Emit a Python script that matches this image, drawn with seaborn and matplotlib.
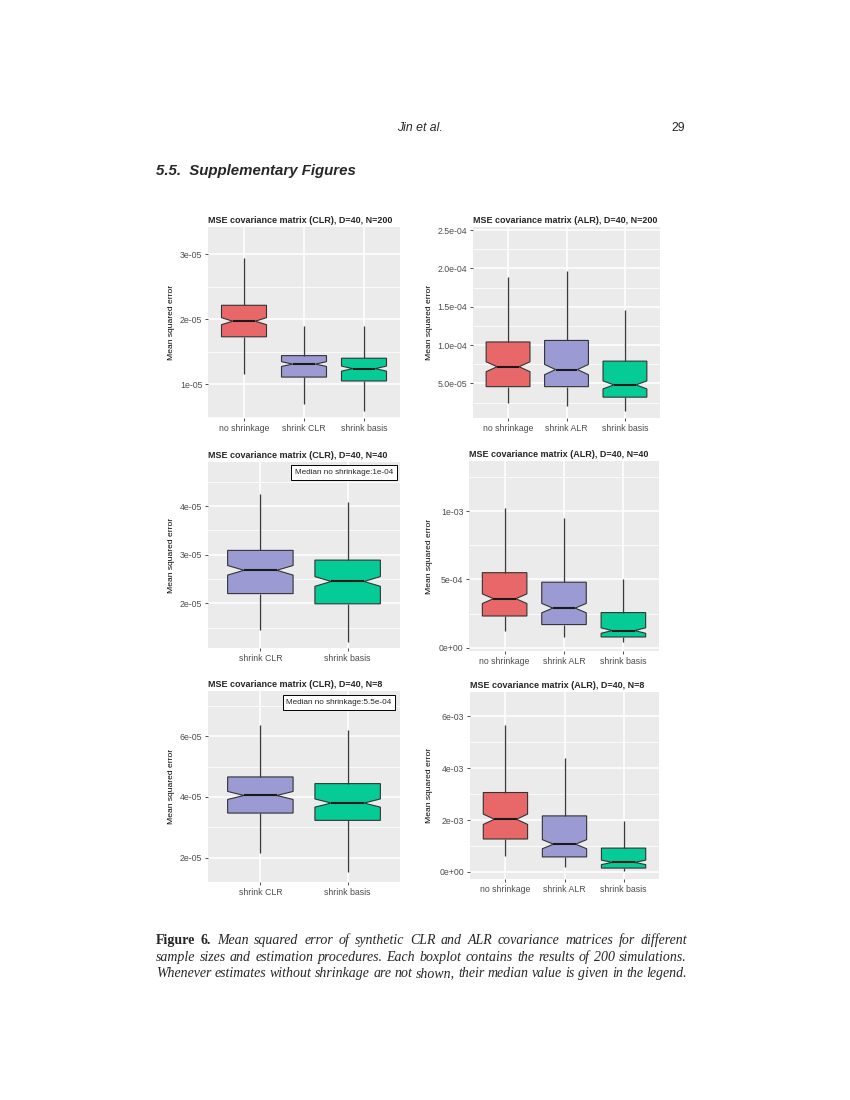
import numpy as np
import pandas as pd
import matplotlib
matplotlib.use("Agg")
import matplotlib.pyplot as plt
from matplotlib.ticker import AutoMinorLocator
import seaborn as sns

W, H = 850, 1100

# categorias de cada painel
cats_clr = ["no shrinkage", "shrink CLR", "shrink basis"]
cats_alr = ["no shrinkage", "shrink ALR", "shrink basis"]
cats_clr_only = ["shrink CLR", "shrink basis"]

# resumo de cada caixa: bigode inf, Q1, mediana, Q3, bigode sup
clr_n200 = {
    "no shrinkage": [1.16e-5, 1.73e-5, 1.97e-5, 2.215e-5, 2.94e-5],
    "shrink CLR": [0.69e-5, 1.11e-5, 1.31e-5, 1.44e-5, 1.90e-5],
    "shrink basis": [0.585e-5, 1.05e-5, 1.24e-5, 1.40e-5, 1.90e-5],
}
alr_n200 = {
    "no shrinkage": [0.24e-4, 0.457e-4, 0.717e-4, 1.04e-4, 1.89e-4],
    "shrink ALR": [0.21e-4, 0.457e-4, 0.68e-4, 1.06e-4, 1.96e-4],
    "shrink basis": [0.14e-4, 0.32e-4, 0.48e-4, 0.79e-4, 1.46e-4],
}
clr_n40 = {
    "shrink CLR": [1.45e-5, 2.20e-5, 2.68e-5, 3.09e-5, 4.26e-5],
    "shrink basis": [1.21e-5, 1.99e-5, 2.45e-5, 2.89e-5, 4.09e-5],
}
alr_n40 = {
    "no shrinkage": [1.2e-4, 2.32e-4, 3.59e-4, 5.5e-4, 1.027e-3],
    "shrink ALR": [0.78e-4, 1.69e-4, 2.9e-4, 4.8e-4, 9.5e-4],
    "shrink basis": [0.41e-4, 0.78e-4, 1.25e-4, 2.57e-4, 5.06e-4],
}
clr_n8 = {
    "shrink CLR": [2.15e-5, 3.47e-5, 4.05e-5, 4.66e-5, 6.36e-5],
    "shrink basis": [1.53e-5, 3.23e-5, 3.80e-5, 4.44e-5, 6.20e-5],
}
alr_n8 = {
    "no shrinkage": [0.63e-3, 1.27e-3, 2.03e-3, 3.06e-3, 5.65e-3],
    "shrink ALR": [0.18e-3, 0.58e-3, 1.07e-3, 2.16e-3, 4.38e-3],
    "shrink basis": [0.05e-3, 0.15e-3, 0.37e-3, 0.92e-3, 1.98e-3],
}

# medianas sem shrinkage (legenda)
note_n40 = "Median no shrinkage:1e-04"
note_n8 = "Median no shrinkage:5.5e-04"

# cores
palette = {
    "no shrinkage": "#E8686A",
    "shrink CLR": "#9B9AD2",
    "shrink ALR": "#9B9AD2",
    "shrink basis": "#05CC96",
}

N_SIM = 200  # 200 simulacoes por caixa


def box_frame(summary, cats):
    # cada valor do resumo representa 1/5 das simulacoes
    rows = []
    for c in cats:
        for v in summary[c]:
            rows += [(c, v)] * (N_SIM // 5)
    return pd.DataFrame(rows, columns=["method", "mse"])


sns.set_style("darkgrid", {"axes.facecolor": "#EBEBEB", "grid.color": "white"})
plt.rcParams["font.family"] = ["Liberation Sans", "DejaVu Sans"]

fig = plt.figure(figsize=(W / 100, H / 100), dpi=100)

# (left, top, right, bottom) em px, titulo, categorias, dados, ylim, ticks, labels, x do ylabel, nota
panels = [
    ((208, 227, 400, 418), "MSE covariance matrix (CLR), D=40, N=200", cats_clr, clr_n200,
     (0.48e-5, 3.42e-5), [1e-5, 2e-5, 3e-5], ["1e-05", "2e-05", "3e-05"], 175, None),
    ((473, 227, 660, 418), "MSE covariance matrix (ALR), D=40, N=200", cats_alr, alr_n200,
     (0.48e-5, 2.54e-4), [5e-5, 1e-4, 1.5e-4, 2e-4, 2.5e-4],
     ["5.0e-05", "1.0e-04", "1.5e-04", "2.0e-04", "2.5e-04"], 433, None),
    ((208, 462, 400, 648), "MSE covariance matrix (CLR), D=40, N=40", cats_clr_only, clr_n40,
     (1.08e-5, 4.91e-5), [2e-5, 3e-5, 4e-5], ["2e-05", "3e-05", "4e-05"], 175,
     (note_n40, 0.708, 0.944)),
    ((469, 461, 659, 651), "MSE covariance matrix (ALR), D=40, N=40", cats_alr, alr_n40,
     (-2.5e-5, 1.37e-3), [0, 5e-4, 1e-3], ["0e+00", "5e-04", "1e-03"], 433, None),
    ((208, 691, 400, 882), "MSE covariance matrix (CLR), D=40, N=8", cats_clr_only, clr_n8,
     (1.2e-5, 7.49e-5), [2e-5, 4e-5, 6e-5], ["2e-05", "4e-05", "6e-05"], 175,
     (note_n8, 0.682, 0.94)),
    ((470, 692, 659, 879), "MSE covariance matrix (ALR), D=40, N=8", cats_alr, alr_n8,
     (-2.7e-4, 6.93e-3), [0, 2e-3, 4e-3, 6e-3], ["0e+00", "2e-03", "4e-03", "6e-03"], 433, None),
]

for (l, t, r, b), title, cats, summary, ylim, yt, ytl, ylab_x, note in panels:
    ax = fig.add_axes([l / W, 1 - b / H, (r - l) / W, (b - t) / H])
    df = box_frame(summary, cats)
    sns.boxplot(data=df, x="method", y="mse", hue="method", order=cats, hue_order=cats,
                palette=palette, saturation=1, notch=True, whis=np.inf, width=0.75,
                linewidth=0.8, linecolor="#333333", showcaps=False, showfliers=False,
                medianprops={"linewidth": 1.5, "color": "#1A1A1A"},
                whiskerprops={"color": "#3A3A3A", "linewidth": 0.95},
                legend=False, ax=ax)
    ax.set_xlim(-0.6, len(cats) - 0.4)
    ax.set_ylim(*ylim)
    ax.set_yticks(yt, ytl)
    ax.yaxis.set_minor_locator(AutoMinorLocator(2))
    ax.grid(which="major", color="white", lw=1.1)
    ax.grid(which="minor", axis="y", color="white", lw=0.55)
    ax.xaxis.grid(True, color="white", lw=1.1)
    ax.set_axisbelow(True)
    for s in ax.spines.values():
        s.set_visible(False)
    ax.tick_params(axis="both", which="major", left=True, bottom=True, length=2.5, width=0.6,
                   color="#333333", labelsize=6.3, labelcolor="#4D4D4D", pad=1.5)
    ax.tick_params(axis="y", which="minor", length=0)
    ax.set_xlabel("")
    ax.set_ylabel("Mean squared error", fontsize=6.1, color="black")
    ax.yaxis.set_label_coords((ylab_x - l) / (r - l), 0.5)
    ax.set_title(title, loc="left", fontsize=6.5, fontweight="bold", pad=3)
    if note:
        ax.text(note[1], note[2], note[0], transform=ax.transAxes, ha="center", va="center",
                fontsize=5.9, bbox=dict(boxstyle="square,pad=0.45", fc="white", ec="black", lw=0.7))

# cabecalho da pagina
fig.text(420 / W, 1 - 128 / H, "Jin et al.", ha="center", va="center", fontsize=8.8, style="italic")
fig.text(685 / W, 1 - 128 / H, "29", ha="right", va="center", fontsize=8.8)
fig.text(156 / W, 1 - 171 / H, "5.5.  Supplementary Figures", ha="left", va="center",
         fontsize=10.8, fontweight="bold", style="italic")

# legenda da figura (texto justificado)
serif = ["Liberation Serif", "DejaVu Serif"]
bold = dict(family=serif, fontsize=10, fontweight="bold")
ital = dict(family=serif, fontsize=10, style="italic")
cap_lines = [
    ([("Figure", bold), ("6.", bold)] +
     [(w, ital) for w in "Mean squared error of synthetic CLR and ALR covariance matrices for different".split()], 944),
    ([(w, ital) for w in "sample sizes and estimation procedures. Each boxplot contains the results of 200 simulations.".split()], 960.7),
    ([(w, ital) for w in "Whenever estimates without shrinkage are not shown, their median value is given in the legend.".split()], 977.3),
]
renderer = fig.canvas.get_renderer()
x0, x1 = 156, 687
for words, y in cap_lines:
    texts = [fig.text(0, 1 - y / H, w, va="baseline", ha="left", **kw) for w, kw in words]
    widths = [tx.get_window_extent(renderer).width for tx in texts]
    gap = (x1 - x0 - sum(widths)) / (len(texts) - 1)
    x = x0
    for tx, wd in zip(texts, widths):
        tx.set_x(x / W)
        x += wd + gap

fig.savefig("out.png", dpi=100)
